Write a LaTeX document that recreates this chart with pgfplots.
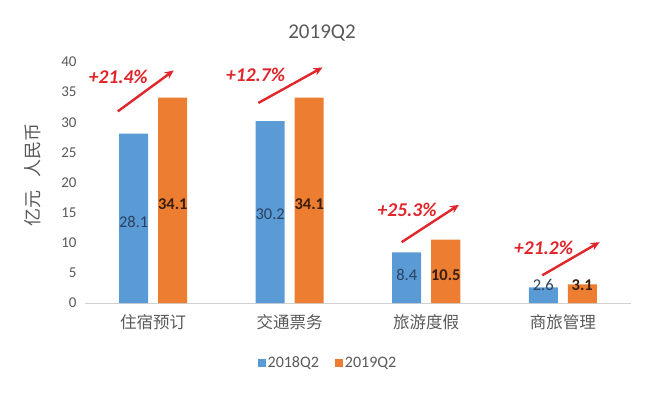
\documentclass[border=0pt]{standalone}
\usepackage{fontspec}
\setmainfont{Carlito}
\newfontfamily\cjk{Noto Sans CJK SC}
\usepackage{pgfplots}
\pgfplotsset{compat=1.18}
\usetikzlibrary{arrows.meta}
\definecolor{barblue}{HTML}{5B9BD5}
\definecolor{barorange}{HTML}{ED7D31}
\definecolor{txtgray}{HTML}{595959}
\definecolor{arrowred}{HTML}{E0262B}
\definecolor{lblblue}{HTML}{2A4262}
\definecolor{lblorange}{HTML}{3A1E0E}
\begin{document}
\begin{tikzpicture}
\begin{axis}[name=ax, scale only axis, width=546pt, height=241pt,
  xmin=-0.5, xmax=3.5, ymin=0, ymax=40, clip=false,
  axis x line*=bottom, axis y line*=left,
  y axis line style={draw=none},
  x axis line style={draw=black!18, line width=0.8pt, -},
  major tick length=0pt,
  xtick={0,1,2,3},
  xticklabels={住宿预订,交通票务,旅游度假,商旅管理},
  xticklabel style={font=\cjk\fontsize{16.5}{16.5}\selectfont, text=txtgray, yshift=-8pt},
  ytick={0,5,...,40},
  yticklabel style={font=\fontsize{15}{15}\selectfont, text=txtgray, xshift=-5pt},
  /pgf/number format/assume math mode=true,
  ylabel={亿元\hspace{0.7em}人民币},
  ylabel style={font=\cjk\fontsize{18}{18}\selectfont, text=txtgray, at={(axis description cs:-0.095,0.53)}, anchor=center, rotate=0},
  legend style={at={(axis description cs:0.445,-0.249)}, anchor=center, draw=none, fill=none,
    legend columns=2, font=\fontsize{16}{16}\selectfont, text=txtgray,
    /tikz/every even column/.append style={column sep=14pt}},
  legend image code/.code={\fill[#1] (0pt,-4pt) rectangle (8pt,4pt);},
]
\addplot[ybar, bar width=29pt, bar shift=-19.5pt, fill=barblue, draw=none]
  coordinates {(0,28.1) (1,30.2) (2,8.4) (3,2.6)};
\addlegendentry{2018Q2}
\addplot[ybar, bar width=29pt, bar shift=19.5pt, fill=barorange, draw=none]
  coordinates {(0,34.1) (1,34.1) (2,10.5) (3,3.1)};
\addlegendentry{2019Q2}
% data labels
\addplot[forget plot, draw=none, mark=none, nodes near coords, point meta=explicit symbolic,
  every node near coord/.append style={anchor=center, font=\fontsize{16.5}{16.5}\selectfont, text=lblblue}]
  coordinates {(-0.143,13.4)[28.1] (0.857,14.8)[30.2] (1.857,4.6)[8.4] (2.857,3.0)[2.6]};
\addplot[forget plot, draw=none, mark=none, nodes near coords, point meta=explicit symbolic,
  every node near coord/.append style={anchor=center, font=\bfseries\fontsize{16.5}{16.5}\selectfont, text=lblorange}]
  coordinates {(0.143,16.4)[34.1] (1.143,16.4)[34.1] (2.143,4.6)[10.5] (3.143,3.0)[3.1]};
% growth arrows
\draw[arrowred, line width=2.4pt, -{Stealth[length=9pt,width=8pt]}] (axis cs:-0.26,31.8) -- (axis cs:0.15,38.6);
\draw[arrowred, line width=2.4pt, -{Stealth[length=9pt,width=8pt]}] (axis cs:0.77,33.2) -- (axis cs:1.24,39.1);
\draw[arrowred, line width=2.4pt, -{Stealth[length=9pt,width=8pt]}] (axis cs:1.82,10.1) -- (axis cs:2.24,16.3);
\draw[arrowred, line width=2.4pt, -{Stealth[length=9pt,width=8pt]}] (axis cs:2.85,4.6) -- (axis cs:3.27,10.1);
\node[text=arrowred, font=\bfseries\itshape\fontsize{19.5}{19.5}\selectfont] at (axis cs:-0.256,37.6) {+21.4\%};
\node[text=arrowred, font=\bfseries\itshape\fontsize{19.5}{19.5}\selectfont] at (axis cs:0.75,37.8) {+12.7\%};
\node[text=arrowred, font=\bfseries\itshape\fontsize{19.5}{19.5}\selectfont] at (axis cs:1.86,15.4) {+25.3\%};
\node[text=arrowred, font=\bfseries\itshape\fontsize{19.5}{19.5}\selectfont] at (axis cs:2.86,9.1) {+21.2\%};
\end{axis}
\node[text=txtgray, font=\fontsize{21}{21}\selectfont] at ([shift={(237pt,270pt)}]ax.south west) {2019Q2};
\path[use as bounding box] ([shift={(-85pt,-91pt)}]ax.south west) rectangle ([shift={(563pt,303pt)}]ax.south west);
\end{tikzpicture}
\end{document}
